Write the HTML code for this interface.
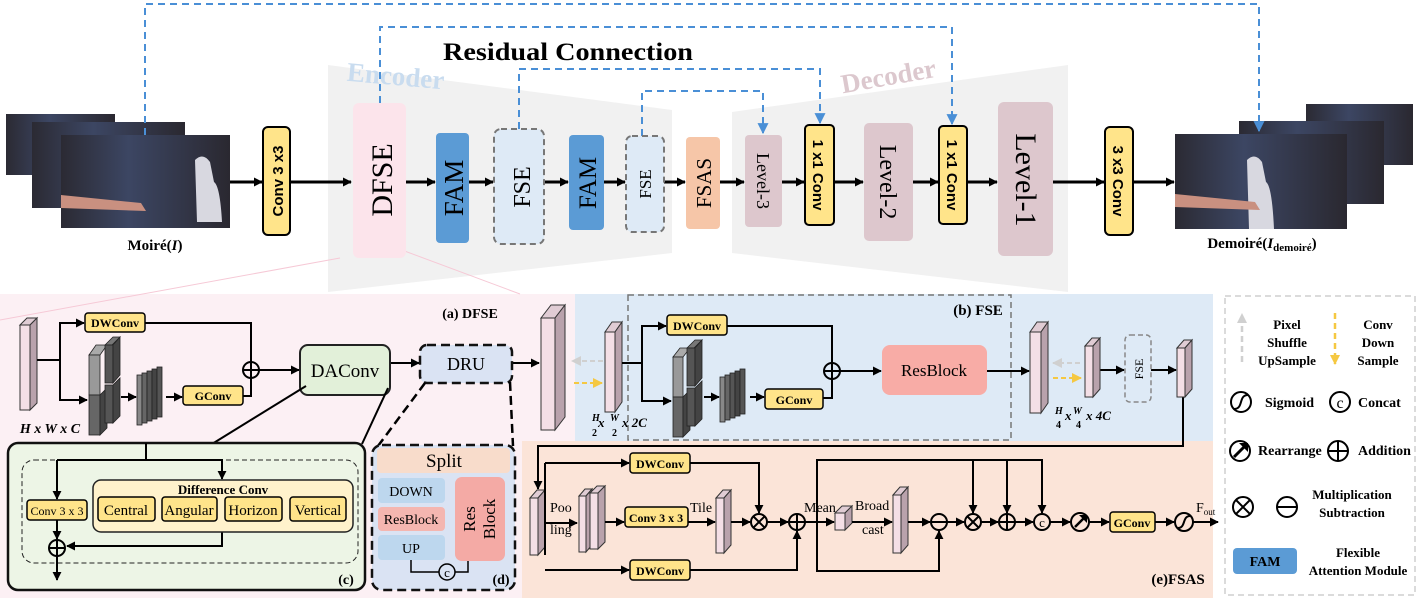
<!DOCTYPE html>
<html><head><meta charset="utf-8"><style>
html,body{margin:0;padding:0;background:#fff}
svg{display:block}
text{font-family:"Liberation Serif",serif}
.b{font-weight:bold}
.s{font-family:"Liberation Sans",sans-serif;font-weight:bold}
</style></head><body>
<svg width="1419" height="598" viewBox="0 0 1419 598" xmlns="http://www.w3.org/2000/svg">
<defs>
<marker id="a" viewBox="0 0 10 10" refX="9" refY="5" markerWidth="9" markerHeight="9" markerUnits="userSpaceOnUse" orient="auto"><path d="M0,0L10,5L0,10z" fill="#000"/></marker>
<marker id="ab" viewBox="0 0 10 10" refX="9" refY="5" markerWidth="11" markerHeight="11" markerUnits="userSpaceOnUse" orient="auto"><path d="M0,0L10,5L0,10z" fill="#4a8fd6"/></marker>
<marker id="ay" viewBox="0 0 10 10" refX="9" refY="5" markerWidth="10" markerHeight="10" markerUnits="userSpaceOnUse" orient="auto"><path d="M0,0L10,5L0,10z" fill="#f5c842"/></marker>
<marker id="ag" viewBox="0 0 10 10" refX="9" refY="5" markerWidth="10" markerHeight="10" markerUnits="userSpaceOnUse" orient="auto"><path d="M0,0L10,5L0,10z" fill="#d0d0d0"/></marker>
<linearGradient id="ph" x1="0" y1="0" x2="1" y2="0"><stop offset="0" stop-color="#2b2a33"/><stop offset="0.4" stop-color="#3c4663"/><stop offset="1" stop-color="#2a2830"/></linearGradient>
</defs>

<!-- bottom panels -->
<rect x="0" y="294" width="576" height="304" fill="#fcf0f4"/>
<rect x="575" y="294" width="638" height="147" fill="#deeaf6"/>
<rect x="522" y="441" width="691" height="157" fill="#fbe4d8"/>
<rect x="1225" y="296" width="190" height="299" fill="#fff" stroke="#cfcfcf" stroke-width="1.5" stroke-dasharray="6,4"/>

<!-- trapezoids -->
<polygon points="328,65 672,110 672,253 328,292" fill="#f1f1f1"/>
<polygon points="732,112 1068,65 1068,292 732,253" fill="#f1f1f1"/>
<line x1="340" y1="258" x2="0" y2="320" stroke="#f6c9d6" stroke-width="1"/>
<line x1="375" y1="240" x2="520" y2="294" stroke="#f6c9d6" stroke-width="1"/>
<text x="395" y="85" font-size="27" fill="#c9dcef" class="b" transform="rotate(5 395 85)" text-anchor="middle">Encoder</text>
<text x="890" y="85" font-size="27" fill="#dcc8ce" class="b" transform="rotate(-10 890 85)" text-anchor="middle">Decoder</text>
<text x="568" y="60" font-size="25" class="b" text-anchor="middle" textLength="250" lengthAdjust="spacingAndGlyphs">Residual Connection</text>

<!-- photos -->
<rect x="6" y="114" width="109" height="61" fill="url(#ph)"/>
<rect x="32" y="122" width="153" height="86" fill="url(#ph)"/>
<rect x="61" y="135" width="169" height="93" fill="url(#ph)"/>
<path d="M195,160 q8,-8 15,2 l4,20 q6,4 8,40 l-25,0 z" fill="#d8d8e0"/>
<path d="M61,195 l80,8 l5,8 l-85,-3z" fill="#c99080"/>
<text x="155" y="250" font-size="15" class="b" text-anchor="middle">Moiré(<tspan font-style="italic">I</tspan>)</text>
<rect x="1306" y="104" width="107" height="61" fill="url(#ph)"/>
<rect x="1239" y="121" width="145" height="83" fill="url(#ph)"/>
<rect x="1175" y="134" width="172" height="95" fill="url(#ph)"/>
<path d="M1247,160 q8,-8 15,2 l4,20 q6,4 8,47 l-25,0 z" fill="#d8d8e0"/>
<path d="M1175,194 l80,8 l5,8 l-85,-3z" fill="#c99080"/>
<text x="1262" y="248" font-size="15" class="b" text-anchor="middle">Demoiré(<tspan font-style="italic">I</tspan><tspan font-size="11" dy="3">demoiré</tspan><tspan dy="-3">)</tspan></text>

<!-- blue dashed connections -->
<g fill="none" stroke="#4a8fd6" stroke-width="2" stroke-dasharray="7,5">
<path d="M145,135 V4 H1259 V131" marker-end="url(#ab)"/>
<path d="M380,103 V27 H952 V124" marker-end="url(#ab)"/>
<path d="M519,129 V69 H820 V123" marker-end="url(#ab)"/>
<path d="M642,136 V91 H763 V133" marker-end="url(#ab)"/>
</g>

<!-- main chain arrows -->
<g stroke="#000" stroke-width="3" fill="none">
<line x1="230" y1="182" x2="262" y2="182" marker-end="url(#a)"/>
<line x1="290" y1="182" x2="351" y2="182" marker-end="url(#a)"/>
<line x1="406" y1="182" x2="435" y2="182" marker-end="url(#a)"/>
<line x1="469" y1="182" x2="493" y2="182" marker-end="url(#a)"/>
<line x1="544" y1="182" x2="568" y2="182" marker-end="url(#a)"/>
<line x1="604" y1="182" x2="625" y2="182" marker-end="url(#a)"/>
<line x1="664" y1="182" x2="685" y2="182" marker-end="url(#a)"/>
<line x1="720" y1="182" x2="744" y2="182" marker-end="url(#a)"/>
<line x1="782" y1="182" x2="804" y2="182" marker-end="url(#a)"/>
<line x1="834" y1="182" x2="863" y2="182" marker-end="url(#a)"/>
<line x1="913" y1="182" x2="938" y2="182" marker-end="url(#a)"/>
<line x1="967" y1="182" x2="997" y2="182" marker-end="url(#a)"/>
<line x1="1053" y1="182" x2="1104" y2="182" marker-end="url(#a)"/>
<line x1="1133" y1="182" x2="1174" y2="182" marker-end="url(#a)"/>
</g>

<!-- main blocks -->
<rect x="263" y="127" width="27" height="108" rx="5" fill="#ffe48a" stroke="#000" stroke-width="2"/>
<text transform="translate(283,181) rotate(-90)" font-size="15" class="s" text-anchor="middle">Conv 3 x3</text>
<rect x="353" y="103" width="53" height="155" rx="6" fill="#fce4eb"/>
<text transform="translate(392,180) rotate(-90)" font-size="30" text-anchor="middle">DFSE</text>
<rect x="436" y="133" width="33" height="110" rx="4" fill="#5b9bd5"/>
<text transform="translate(463,188) rotate(-90)" font-size="27" text-anchor="middle">FAM</text>
<rect x="494" y="129" width="50" height="115" rx="7" fill="#deeaf6" stroke="#777" stroke-width="2" stroke-dasharray="6,4"/>
<text transform="translate(530,187) rotate(-90)" font-size="24" text-anchor="middle">FSE</text>
<rect x="569" y="135" width="35" height="95" rx="4" fill="#5b9bd5"/>
<text transform="translate(596,183) rotate(-90)" font-size="25" text-anchor="middle">FAM</text>
<rect x="626" y="136" width="38" height="96" rx="6" fill="#deeaf6" stroke="#777" stroke-width="2" stroke-dasharray="6,4"/>
<text transform="translate(651,184) rotate(-90)" font-size="17" text-anchor="middle">FSE</text>
<rect x="686" y="137" width="34" height="92" rx="4" fill="#f6c6a8"/>
<text transform="translate(711,183) rotate(-90)" font-size="21" text-anchor="middle">FSAS</text>
<rect x="745" y="135" width="37" height="92" rx="4" fill="#ddc7cd"/>
<text transform="translate(757,181) rotate(90)" font-size="18" text-anchor="middle">Level-3</text>
<rect x="805" y="125" width="29" height="100" rx="4" fill="#ffe48a" stroke="#000" stroke-width="2"/>
<text transform="translate(813,175) rotate(90)" font-size="15" class="s" text-anchor="middle">1 x1 Conv</text>
<rect x="864" y="123" width="49" height="118" rx="5" fill="#ddc7cd"/>
<text transform="translate(880,182) rotate(90)" font-size="24" text-anchor="middle">Level-2</text>
<rect x="939" y="126" width="28" height="98" rx="4" fill="#ffe48a" stroke="#000" stroke-width="2"/>
<text transform="translate(947,175) rotate(90)" font-size="15" class="s" text-anchor="middle">1 x1 Conv</text>
<rect x="998" y="102" width="55" height="154" rx="6" fill="#ddc7cd"/>
<text transform="translate(1016,180) rotate(90)" font-size="30" text-anchor="middle">Level-1</text>
<rect x="1105" y="127" width="28" height="108" rx="5" fill="#ffe48a" stroke="#000" stroke-width="2"/>
<text transform="translate(1113,181) rotate(90)" font-size="15" class="s" text-anchor="middle">3 x3 Conv</text>

<!-- ===== Panel (a) ===== -->
<g stroke="#333" stroke-width="1">
<polygon points="20,325 27,318 37,318 30,325" fill="#e0ccd4"/>
<rect x="20" y="325" width="10" height="85" fill="#f4dfe6"/>
<polygon points="30,325 37,318 37,403 30,410" fill="#b9a2ac"/>
</g>
<text x="50" y="433" font-size="14" class="b" font-style="italic" text-anchor="middle">H x W x C</text>
<g stroke="#000" stroke-width="2" fill="none">
<path d="M37,360 H60 V323 H84" marker-end="url(#a)"/>
<path d="M60,360 V400 H87" marker-end="url(#a)"/>
<path d="M145,323 H251 V362"/>
<path d="M243,396 H251 V378"/>
<line x1="121" y1="397" x2="136" y2="397" marker-end="url(#a)"/>
<line x1="166" y1="397" x2="182" y2="397" marker-end="url(#a)"/>
<line x1="259" y1="370" x2="299" y2="370" marker-end="url(#a)"/>
<line x1="390" y1="363" x2="419" y2="363" marker-end="url(#a)"/>
<line x1="512" y1="363" x2="539" y2="363" marker-end="url(#a)"/>
</g>
<circle cx="251" cy="370" r="8" fill="none" stroke="#000" stroke-width="2"/>
<path d="M243,370H259M251,362V378" stroke="#000" stroke-width="2"/>
<!-- wavelet slabs -->
<g stroke="#222" stroke-width="0.8">
<polygon points="89,355 96,345 107,345 100,355" fill="#aaa"/><rect x="89" y="355" width="11" height="40" fill="#999"/>
<polygon points="105,345 113,337 120,337 112,345" fill="#777"/><rect x="105" y="345" width="8" height="38" fill="#555"/><polygon points="113,345 120,337 120,375 113,383" fill="#444"/>
<rect x="89" y="395" width="11" height="40" fill="#666"/><polygon points="100,395 107,388 107,428 100,435" fill="#444"/>
<rect x="105" y="385" width="8" height="38" fill="#555"/><polygon points="113,385 120,378 120,416 113,423" fill="#444"/>
<rect x="137" y="375" width="5" height="50" fill="#888"/><rect x="142" y="373" width="5" height="50" fill="#666"/><rect x="147" y="371" width="5" height="50" fill="#555"/><rect x="152" y="369" width="5" height="50" fill="#444"/><rect x="157" y="367" width="5" height="50" fill="#555"/>
</g>
<rect x="85" y="313" width="60" height="19" rx="3" fill="#ffe48a" stroke="#000" stroke-width="1.5"/>
<text x="115" y="327" font-size="12" class="b" text-anchor="middle">DWConv</text>
<rect x="183" y="386" width="60" height="19" rx="3" fill="#ffe48a" stroke="#000" stroke-width="1.5"/>
<text x="213" y="400" font-size="12" class="b" text-anchor="middle">GConv</text>
<rect x="300" y="345" width="90" height="50" rx="8" fill="#e2f0d9" stroke="#222" stroke-width="2"/>
<text x="345" y="377" font-size="19" text-anchor="middle">DAConv</text>
<rect x="420" y="345" width="92" height="38" rx="7" fill="#dae3f3" stroke="#111" stroke-width="2.5" stroke-dasharray="9,5"/>
<text x="466" y="370" font-size="18" text-anchor="middle">DRU</text>
<text x="470" y="318" font-size="14" class="b" text-anchor="middle">(a) DFSE</text>
<g stroke="#333" stroke-width="1">
<polygon points="541,318 551,305 565,305 555,318" fill="#e0ccd4"/>
<rect x="541" y="318" width="14" height="112" fill="#f4dfe6"/>
<polygon points="555,318 565,305 565,417 555,430" fill="#b9a2ac"/>
</g>
<!-- zoom lines -->
<g stroke="#000" stroke-width="2" fill="none">
<line x1="306" y1="386" x2="212" y2="444"/>
<line x1="388" y1="388" x2="362" y2="444"/>
<line x1="425" y1="383" x2="378" y2="446" stroke-width="2.5" stroke-dasharray="9,5"/>
<line x1="510" y1="382" x2="513" y2="446" stroke-width="2.5" stroke-dasharray="9,5"/>
</g>
<!-- panel c -->
<rect x="8" y="443" width="357" height="147" rx="10" fill="#edf5e6" stroke="#111" stroke-width="2.5"/>
<rect x="22" y="460" width="336" height="103" rx="12" fill="none" stroke="#222" stroke-width="1" stroke-dasharray="5,3"/>
<g stroke="#000" stroke-width="2" fill="none">
<path d="M146,443 V460 M57,460 H222 V478" />
<line x1="222" y1="468" x2="222" y2="479" marker-end="url(#a)"/>
<line x1="57" y1="460" x2="57" y2="499" marker-end="url(#a)"/>
<line x1="57" y1="520" x2="57" y2="539" marker-end="url(#a)"/>
<path d="M222,532 V546 H67" marker-end="url(#a)"/>
<line x1="57" y1="556" x2="57" y2="580" marker-end="url(#a)"/>
</g>
<circle cx="57" cy="548" r="8" fill="none" stroke="#000" stroke-width="2"/>
<path d="M49,548H65M57,540V556" stroke="#000" stroke-width="2"/>
<rect x="27" y="500" width="60" height="20" rx="3" fill="#ffe48a" stroke="#000" stroke-width="1.5"/>
<text x="57" y="515" font-size="12" text-anchor="middle">Conv 3 x 3</text>
<rect x="93" y="480" width="260" height="52" rx="8" fill="#fff2cc" stroke="#222" stroke-width="1.5"/>
<text x="223" y="494" font-size="13" class="b" text-anchor="middle">Difference Conv</text>
<g fill="#ffe48a" stroke="#000" stroke-width="1.5">
<rect x="98" y="497" width="57" height="24" rx="3"/><rect x="162" y="497" width="55" height="24" rx="3"/><rect x="225" y="497" width="57" height="24" rx="3"/><rect x="290" y="497" width="56" height="24" rx="3"/>
</g>
<g font-size="15" text-anchor="middle"><text x="126" y="515">Central</text><text x="189" y="515">Angular</text><text x="253" y="515">Horizon</text><text x="318" y="515">Vertical</text></g>
<text x="346" y="584" font-size="14" class="b" text-anchor="middle">(c)</text>
<!-- panel d -->
<rect x="372" y="445" width="143" height="145" rx="10" fill="#dae3f3" stroke="#111" stroke-width="2.5" stroke-dasharray="9,5"/>
<rect x="377" y="448" width="133" height="25" rx="4" fill="#f8dccb"/>
<text x="444" y="467" font-size="19" text-anchor="middle">Split</text>
<rect x="378" y="478" width="67" height="25" rx="4" fill="#bdd7ee"/><text x="411" y="496" font-size="14" text-anchor="middle">DOWN</text>
<rect x="378" y="507" width="67" height="24" rx="4" fill="#f4b6b0"/><text x="411" y="524" font-size="14" text-anchor="middle">ResBlock</text>
<rect x="378" y="535" width="67" height="25" rx="4" fill="#bdd7ee"/><text x="411" y="553" font-size="14" text-anchor="middle">UP</text>
<rect x="455" y="477" width="50" height="84" rx="7" fill="#f4aaa5"/>
<text transform="translate(475,519) rotate(-90)" font-size="17" text-anchor="middle">Res</text>
<text transform="translate(495,519) rotate(-90)" font-size="17" text-anchor="middle">Block</text>
<path d="M411,560 V572 H439 M455,572 H468 V561" stroke="#000" stroke-width="1.5" fill="none"/>
<circle cx="447" cy="572" r="8" fill="#dae3f3" stroke="#000" stroke-width="1.5"/><text x="447" y="577" font-size="13" text-anchor="middle">c</text>
<text x="501" y="584" font-size="14" class="b" text-anchor="middle">(d)</text>

<!-- ===== Panel (b) FSE ===== -->
<rect x="628" y="295" width="383" height="145" fill="none" stroke="#777" stroke-width="1.5" stroke-dasharray="6,4"/>
<text x="978" y="315" font-size="15" class="b" text-anchor="middle">(b) FSE</text>
<line x1="603" y1="361" x2="572" y2="361" stroke="#d0d0d0" stroke-width="2" stroke-dasharray="5,3" marker-end="url(#ag)"/>
<line x1="574" y1="383" x2="602" y2="383" stroke="#f5c842" stroke-width="2" stroke-dasharray="5,3" marker-end="url(#ay)"/>
<g stroke="#333" stroke-width="1">
<polygon points="605,332 612,322 622,322 615,332" fill="#e0ccd4"/><rect x="605" y="332" width="10" height="80" fill="#f4dfe6"/><polygon points="615,332 622,322 622,402 615,412" fill="#b9a2ac"/>
</g>
<text x="598" y="427" font-size="13" font-style="italic" class="b">x</text>
<text x="592" y="421" font-size="10" font-style="italic" class="b">H</text><text x="592" y="436" font-size="10" class="b">2</text>
<text x="610" y="421" font-size="10" font-style="italic" class="b">W</text><text x="612" y="436" font-size="10" class="b">2</text>
<text x="622" y="427" font-size="13" font-style="italic" class="b">x 2C</text>
<g stroke="#000" stroke-width="2" fill="none">
<path d="M622,363 H642 V326 H666" marker-end="url(#a)"/>
<path d="M642,363 V401 H671" marker-end="url(#a)"/>
<path d="M727,326 H832 V363"/>
<path d="M823,398 H832 V379"/>
<line x1="704" y1="397" x2="719" y2="397" marker-end="url(#a)"/>
<line x1="750" y1="397" x2="764" y2="397" marker-end="url(#a)"/>
<line x1="840" y1="371" x2="881" y2="371" marker-end="url(#a)"/>
<line x1="987" y1="371" x2="1029" y2="371" marker-end="url(#a)"/>
<line x1="1100" y1="370" x2="1124" y2="370" marker-end="url(#a)"/>
<line x1="1151" y1="370" x2="1176" y2="370" marker-end="url(#a)"/>
<path d="M1183,397 V446 H538 V489" marker-end="url(#a)"/>
</g>
<circle cx="832" cy="371" r="8" fill="none" stroke="#000" stroke-width="2"/>
<path d="M824,371H840M832,363V379" stroke="#000" stroke-width="2"/>
<g stroke="#222" stroke-width="0.8">
<polygon points="673,357 680,348 690,348 683,357" fill="#aaa"/><rect x="673" y="357" width="10" height="40" fill="#999"/>
<polygon points="687,348 695,340 702,340 694,348" fill="#777"/><rect x="687" y="348" width="8" height="38" fill="#555"/><polygon points="695,348 702,340 702,378 695,386" fill="#444"/>
<rect x="673" y="397" width="10" height="40" fill="#666"/><polygon points="683,397 690,390 690,430 683,437" fill="#444"/>
<rect x="687" y="388" width="8" height="38" fill="#555"/><polygon points="695,388 702,381 702,419 695,426" fill="#444"/>
<rect x="720" y="377" width="5" height="45" fill="#888"/><rect x="725" y="375" width="5" height="45" fill="#666"/><rect x="730" y="373" width="5" height="45" fill="#555"/><rect x="735" y="371" width="5" height="45" fill="#444"/><rect x="740" y="369" width="5" height="45" fill="#555"/>
</g>
<rect x="667" y="315" width="60" height="20" rx="3" fill="#ffe48a" stroke="#000" stroke-width="1.5"/>
<text x="697" y="330" font-size="12" class="b" text-anchor="middle">DWConv</text>
<rect x="765" y="389" width="58" height="20" rx="3" fill="#ffe48a" stroke="#000" stroke-width="1.5"/>
<text x="794" y="404" font-size="12" class="b" text-anchor="middle">GConv</text>
<rect x="882" y="345" width="105" height="50" rx="8" fill="#f8aca6"/>
<text x="934" y="376" font-size="17" text-anchor="middle">ResBlock</text>
<g stroke="#333" stroke-width="1">
<polygon points="1030,332 1037,322 1048,322 1041,332" fill="#e0ccd4"/><rect x="1030" y="332" width="11" height="81" fill="#f4dfe6"/><polygon points="1041,332 1048,322 1048,403 1041,413" fill="#b9a2ac"/>
<polygon points="1085,346 1092,338 1100,338 1093,346" fill="#e0ccd4"/><rect x="1085" y="346" width="8" height="51" fill="#f4dfe6"/><polygon points="1093,346 1100,338 1100,389 1093,397" fill="#b9a2ac"/>
<polygon points="1177,348 1184,340 1192,340 1185,348" fill="#e0ccd4"/><rect x="1177" y="348" width="8" height="49" fill="#f4dfe6"/><polygon points="1185,348 1192,340 1192,389 1185,397" fill="#b9a2ac"/>
</g>
<line x1="1080" y1="363" x2="1053" y2="363" stroke="#d0d0d0" stroke-width="2" stroke-dasharray="5,3" marker-end="url(#ag)"/>
<line x1="1053" y1="378" x2="1081" y2="378" stroke="#f5c842" stroke-width="2" stroke-dasharray="5,3" marker-end="url(#ay)"/>
<rect x="1125" y="335" width="26" height="67" rx="5" fill="#deeaf6" stroke="#888" stroke-width="1.5" stroke-dasharray="5,3"/>
<text transform="translate(1143,369) rotate(-90)" font-size="12" text-anchor="middle">FSE</text>
<text x="1055" y="414" font-size="10" font-style="italic" class="b">H</text><text x="1056" y="428" font-size="10" class="b">4</text>
<text x="1065" y="420" font-size="13" font-style="italic" class="b">x</text>
<text x="1073" y="414" font-size="10" font-style="italic" class="b">W</text><text x="1076" y="428" font-size="10" class="b">4</text>
<text x="1086" y="420" font-size="13" font-style="italic" class="b">x 4C</text>

<!-- ===== Panel (e) FSAS ===== -->
<g stroke="#333" stroke-width="1">
<polygon points="530,498 537,490 545,490 538,498" fill="#e0ccd4"/><rect x="530" y="498" width="8" height="57" fill="#f4dfe6"/><polygon points="538,498 545,490 545,547 538,555" fill="#b9a2ac"/>
<polygon points="579,496 585,489 592,489 586,496" fill="#e0ccd4"/><rect x="579" y="496" width="7" height="56" fill="#f4dfe6"/><polygon points="586,496 592,489 592,545 586,552" fill="#b9a2ac"/>
<polygon points="590,493 597,486 605,486 598,493" fill="#e0ccd4"/><rect x="590" y="493" width="8" height="56" fill="#f4dfe6"/><polygon points="598,493 605,486 605,542 598,549" fill="#b9a2ac"/>
<polygon points="716,498 723,490 731,490 724,498" fill="#e0ccd4"/><rect x="716" y="498" width="8" height="55" fill="#f4dfe6"/><polygon points="724,498 731,490 731,545 724,553" fill="#b9a2ac"/>
<polygon points="835,513 842,506 852,506 845,513" fill="#e0ccd4"/><rect x="835" y="513" width="10" height="17" fill="#f4dfe6"/><polygon points="845,513 852,506 852,523 845,530" fill="#b9a2ac"/>
<polygon points="893,495 900,487 908,487 901,495" fill="#e0ccd4"/><rect x="893" y="495" width="8" height="58" fill="#f4dfe6"/><polygon points="901,495 908,487 908,545 901,553" fill="#b9a2ac"/>
</g>
<g stroke="#000" stroke-width="2" fill="none">
<path d="M545,463 H629" marker-end="url(#a)"/>
<path d="M545,463 V555"/>
<path d="M545,570 H629" marker-end="url(#a)"/>
<path d="M545,523 H577" marker-end="url(#a)"/>
<path d="M605,522 H624" marker-end="url(#a)"/>
<path d="M688,522 H715" marker-end="url(#a)"/>
<path d="M731,522 H750" marker-end="url(#a)"/>
<path d="M690,463 H759 V513" marker-end="url(#a)"/>
<path d="M767,522 H788" marker-end="url(#a)"/>
<path d="M690,570 H797 V531" marker-end="url(#a)"/>
<path d="M805,522 H834" marker-end="url(#a)"/>
<path d="M852,522 H892" marker-end="url(#a)"/>
<path d="M908,522 H930" marker-end="url(#a)"/>
<path d="M817,522 V460 H1042 V513" marker-end="url(#a)"/>
<path d="M973,460 V513" marker-end="url(#a)"/>
<path d="M1007,460 V513" marker-end="url(#a)"/>
<path d="M817,522 V571 H939 V531" marker-end="url(#a)"/>
<path d="M947,522 H964" marker-end="url(#a)"/>
<path d="M981,522 H998" marker-end="url(#a)"/>
<path d="M1015,522 H1033" marker-end="url(#a)"/>
<path d="M1050,522 H1070" marker-end="url(#a)"/>
<path d="M1089,522 H1109" marker-end="url(#a)"/>
<path d="M1155,522 H1174" marker-end="url(#a)"/>
<path d="M1193,522 H1218" marker-end="url(#a)"/>
</g>
<g fill="none" stroke="#000" stroke-width="2">
<circle cx="759" cy="522" r="8"/><path d="M753,516L765,528M765,516L753,528"/>
<circle cx="797" cy="522" r="8"/><path d="M789,522H805M797,514V530"/>
<circle cx="939" cy="522" r="8"/><path d="M931,522H947"/>
<circle cx="973" cy="522" r="8"/><path d="M967,516L979,528M979,516L967,528"/>
<circle cx="1007" cy="522" r="8"/><path d="M999,522H1015M1007,514V530"/>
<circle cx="1042" cy="522" r="8"/>
<circle cx="1080" cy="522" r="9"/>
<circle cx="1184" cy="522" r="9"/><path d="M1178,528 C1186,528 1182,516 1190,516"/>
</g>
<text x="1042" y="527" font-size="13" text-anchor="middle">c</text>
<path d="M1075,527 L1085,517" stroke="#000" stroke-width="2.5"/><path d="M1079,515 L1087,515 L1087,523 z" fill="#000"/>
<rect x="625" y="507" width="63" height="20" rx="3" fill="#ffe48a" stroke="#000" stroke-width="1.5"/>
<text x="656" y="522" font-size="12" class="b" text-anchor="middle">Conv 3 x 3</text>
<rect x="630" y="453" width="60" height="20" rx="3" fill="#ffe48a" stroke="#000" stroke-width="1.5"/>
<text x="660" y="468" font-size="12" class="b" text-anchor="middle">DWConv</text>
<rect x="630" y="560" width="60" height="20" rx="3" fill="#ffe48a" stroke="#000" stroke-width="1.5"/>
<text x="660" y="575" font-size="12" class="b" text-anchor="middle">DWConv</text>
<rect x="1110" y="512" width="45" height="20" rx="3" fill="#ffe48a" stroke="#000" stroke-width="1.5"/>
<text x="1132" y="527" font-size="12" class="b" text-anchor="middle">GConv</text>
<g font-size="14"><text x="550" y="512">Poo</text><text x="550" y="534">ling</text><text x="690" y="512">Tile</text><text x="804" y="512">Mean</text><text x="855" y="510">Broad</text><text x="862" y="534">cast</text>
<text x="1196" y="512">F<tspan font-size="9" dy="3">out</tspan></text></g>
<text x="1178" y="584" font-size="15" class="b" text-anchor="middle">(e)FSAS</text>

<!-- ===== Legend ===== -->
<line x1="1242" y1="362" x2="1242" y2="314" stroke="#d0d0d0" stroke-width="2.5" stroke-dasharray="6,4" marker-end="url(#ag)"/>
<line x1="1335" y1="313" x2="1335" y2="364" stroke="#f5c842" stroke-width="2.5" stroke-dasharray="6,4" marker-end="url(#ay)"/>
<g font-size="13" class="b" text-anchor="middle">
<text x="1287" y="329">Pixel</text><text x="1287" y="347">Shuffle</text><text x="1287" y="365">UpSample</text>
<text x="1378" y="329">Conv</text><text x="1378" y="347">Down</text><text x="1378" y="365">Sample</text>
<text x="1352" y="499">Multiplication</text><text x="1352" y="517">Subtraction</text>
<text x="1358" y="557">Flexible</text><text x="1358" y="575">Attention Module</text>
</g>
<g font-size="14" class="b">
<text x="1265" y="407">Sigmoid</text><text x="1358" y="407">Concat</text>
<text x="1258" y="455">Rearrange</text><text x="1358" y="455">Addition</text>
</g>
<g fill="none" stroke="#000" stroke-width="2">
<circle cx="1241" cy="402" r="10"/><path d="M1234,409 C1244,409 1238,395 1248,395"/>
<circle cx="1340" cy="402" r="10"/>
<circle cx="1240" cy="451" r="10"/>
<circle cx="1338" cy="451" r="10"/><path d="M1328,451H1348M1338,441V461"/>
<circle cx="1243" cy="507" r="10"/><path d="M1236,500L1250,514M1250,500L1236,514"/>
<circle cx="1287" cy="507" r="10"/><path d="M1277,507H1297"/>
</g>
<text x="1340" y="408" font-size="16" text-anchor="middle">c</text>
<path d="M1234,457 L1245,446" stroke="#000" stroke-width="3"/><path d="M1239,443 L1248,443 L1248,452 z" fill="#000"/>
<rect x="1233" y="548" width="64" height="26" rx="4" fill="#5b9bd5"/>
<text x="1265" y="566" font-size="14" class="b" text-anchor="middle">FAM</text>
</svg>
</body></html>
